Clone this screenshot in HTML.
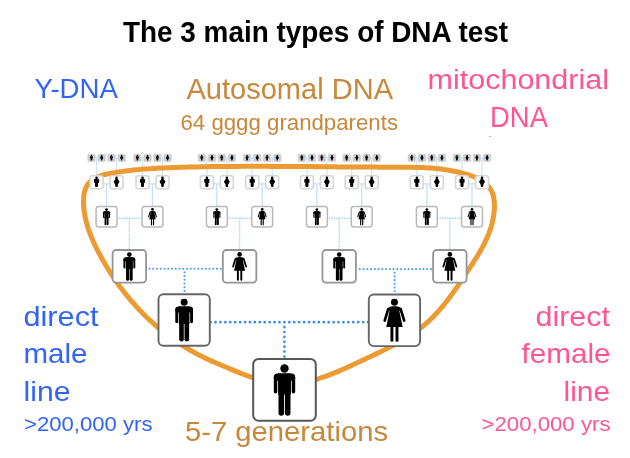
<!DOCTYPE html>
<html><head><meta charset="utf-8"><style>
html,body{margin:0;padding:0;background:#fff;}
svg{display:block;will-change:transform;}
text{font-family:"Liberation Sans",sans-serif;}
</style></head><body>
<svg width="630" height="458" viewBox="0 0 630 458">
<defs>
<filter id="b1" x="-20%" y="-20%" width="140%" height="140%"><feGaussianBlur stdDeviation="0.35"/></filter>
<filter id="b3" x="-30%" y="-30%" width="160%" height="160%"><feGaussianBlur stdDeviation="0.45"/></filter>
<filter id="b2" x="-20%" y="-20%" width="140%" height="140%"><feGaussianBlur stdDeviation="0.3"/></filter>
<symbol id="m" viewBox="0 0 100 100">
 <circle cx="50" cy="15.5" r="6.8"/>
 <rect x="32.7" y="23.5" width="34.6" height="12" rx="6"/>
 <rect x="32.7" y="27" width="5.6" height="29" rx="2.8"/>
 <rect x="61.7" y="27" width="5.6" height="29" rx="2.8"/>
 <rect x="39.6" y="23.5" width="20.8" height="34"/>
 <rect x="40.3" y="50" width="9" height="42" rx="4.5"/>
 <rect x="50.7" y="50" width="9" height="42" rx="4.5"/>
</symbol>
<symbol id="f" viewBox="0 0 100 100">
 <circle cx="50" cy="15" r="6.8"/>
 <path d="M38,28L31,50.5M62,28L69,50.5" stroke="#000" stroke-width="5.2" stroke-linecap="round"/>
 <path d="M36.5,29C37.5,25 41,22.8 50,22.8C59,22.8 62.5,25 63.5,29L59.5,31.5L66,63H34L40.5,31.5Z"/>
 <rect x="42.2" y="56" width="5.7" height="36" rx="2.85"/>
 <rect x="52.1" y="56" width="5.7" height="36" rx="2.85"/>
</symbol>
<symbol id="ms" viewBox="0 0 100 100">
 <circle cx="50" cy="17" r="10"/>
 <path d="M36,26H64Q70,26 70,32V50Q70,54 62,54V80Q62,86 56,86H44Q38,86 38,80V54Q30,54 30,50V32Q30,26 36,26Z"/>
</symbol>
<symbol id="fs" viewBox="0 0 100 100">
 <circle cx="50" cy="17" r="10"/>
 <path d="M41,25H59L73,47L60,68V80Q60,86 55,86H45Q40,86 40,80V68L27,47Z"/>
</symbol>
</defs>
<rect width="630" height="458" fill="#fff"/>

<text x="123" y="42" font-weight="bold" font-size="29.4" textLength="385" lengthAdjust="spacingAndGlyphs" fill="#000">The 3 main types of DNA test</text>
<text x="34.5" y="98.3" font-size="28.4" textLength="83.5" lengthAdjust="spacingAndGlyphs" fill="#3265f6">Y-DNA</text>
<text x="186.5" y="98.8" font-size="29" textLength="206.5" lengthAdjust="spacingAndGlyphs" fill="#c8873a">Autosomal DNA</text>
<text x="180.5" y="130" font-size="21.4" textLength="217.5" lengthAdjust="spacingAndGlyphs" fill="#c8873a">64 gggg grandparents</text>
<text x="427.5" y="88.8" font-size="28.2" textLength="181.5" lengthAdjust="spacingAndGlyphs" fill="#ff5592">mitochondrial</text>
<text x="490" y="126.7" font-size="29" textLength="58" lengthAdjust="spacingAndGlyphs" fill="#ff5592">DNA</text>
<text x="23.5" y="325.6" font-size="28.3" textLength="75" lengthAdjust="spacingAndGlyphs" fill="#3265f6">direct</text>
<text x="23.5" y="363.3" font-size="28.3" textLength="64" lengthAdjust="spacingAndGlyphs" fill="#3265f6">male</text>
<text x="23.5" y="401.2" font-size="28.3" textLength="47" lengthAdjust="spacingAndGlyphs" fill="#3265f6">line</text>
<text x="24" y="431" font-size="20.5" textLength="128.5" lengthAdjust="spacingAndGlyphs" fill="#3265f6">&gt;200,000 yrs</text>
<text x="535.5" y="325.6" font-size="28.3" textLength="74.5" lengthAdjust="spacingAndGlyphs" fill="#ff5592">direct</text>
<text x="521.5" y="363.3" font-size="28.3" textLength="89" lengthAdjust="spacingAndGlyphs" fill="#ff5592">female</text>
<text x="563.5" y="401.2" font-size="28.3" textLength="46.5" lengthAdjust="spacingAndGlyphs" fill="#ff5592">line</text>
<text x="481.5" y="431" font-size="20.5" textLength="129" lengthAdjust="spacingAndGlyphs" fill="#ff5592">&gt;200,000 yrs</text>
<text x="185" y="441.3" font-size="28.3" textLength="203" lengthAdjust="spacingAndGlyphs" fill="#c8873a">5-7 generations</text>
<ellipse cx="490" cy="136.4" rx="1.1" ry="0.7" fill="#ff7a9a" opacity="0.8"/>

<g><path d="M91.45,157.9H101.65M96.55,157.9V175.7" stroke="#cde5fb" stroke-width="1.3" fill="none"/><path d="M111.45,157.9H121.65M116.55,157.9V175.7" stroke="#cde5fb" stroke-width="1.3" fill="none"/><path d="M137.40,157.9H147.60M142.50,157.9V175.7" stroke="#cde5fb" stroke-width="1.3" fill="none"/><path d="M157.40,157.9H167.60M162.50,157.9V175.7" stroke="#cde5fb" stroke-width="1.3" fill="none"/><path d="M201.75,157.9H211.95M206.85,157.9V175.7" stroke="#cde5fb" stroke-width="1.3" fill="none"/><path d="M221.75,157.9H231.95M226.85,157.9V175.7" stroke="#cde5fb" stroke-width="1.3" fill="none"/><path d="M247.10,157.9H257.30M252.20,157.9V175.7" stroke="#cde5fb" stroke-width="1.3" fill="none"/><path d="M267.10,157.9H277.30M272.20,157.9V175.7" stroke="#cde5fb" stroke-width="1.3" fill="none"/><path d="M301.80,157.9H312.00M306.90,157.9V175.7" stroke="#cde5fb" stroke-width="1.3" fill="none"/><path d="M321.80,157.9H332.00M326.90,157.9V175.7" stroke="#cde5fb" stroke-width="1.3" fill="none"/><path d="M346.60,157.9H356.80M351.70,157.9V175.7" stroke="#cde5fb" stroke-width="1.3" fill="none"/><path d="M366.60,157.9H376.80M371.70,157.9V175.7" stroke="#cde5fb" stroke-width="1.3" fill="none"/><path d="M411.75,157.9H421.95M416.85,157.9V175.7" stroke="#cde5fb" stroke-width="1.3" fill="none"/><path d="M431.75,157.9H441.95M436.85,157.9V175.7" stroke="#cde5fb" stroke-width="1.3" fill="none"/><path d="M456.90,157.9H467.10M462.00,157.9V175.7" stroke="#cde5fb" stroke-width="1.3" fill="none"/><path d="M476.90,157.9H487.10M482.00,157.9V175.7" stroke="#cde5fb" stroke-width="1.3" fill="none"/><path d="M96.55,183.8H116.55M106.55,183.8V206.4" stroke="#c4e0fa" stroke-width="1.3" fill="none"/><path d="M142.50,183.8H162.50M152.50,183.8V206.4" stroke="#c4e0fa" stroke-width="1.3" fill="none"/><path d="M206.85,183.8H226.85M216.85,183.8V206.4" stroke="#c4e0fa" stroke-width="1.3" fill="none"/><path d="M252.20,183.8H272.20M262.20,183.8V206.4" stroke="#c4e0fa" stroke-width="1.3" fill="none"/><path d="M306.90,183.8H326.90M316.90,183.8V206.4" stroke="#c4e0fa" stroke-width="1.3" fill="none"/><path d="M351.70,183.8H371.70M361.70,183.8V206.4" stroke="#c4e0fa" stroke-width="1.3" fill="none"/><path d="M416.85,183.8H436.85M426.85,183.8V206.4" stroke="#c4e0fa" stroke-width="1.3" fill="none"/><path d="M462.00,183.8H482.00M472.00,183.8V206.4" stroke="#c4e0fa" stroke-width="1.3" fill="none"/><path d="M106.55,218.3H152.15M129.35,218.3V250.0" stroke="#acd5f8" stroke-width="1.4" fill="none" stroke-dasharray="1.5 1"/><path d="M216.80,218.3H262.40M239.60,218.3V250.0" stroke="#acd5f8" stroke-width="1.4" fill="none" stroke-dasharray="1.5 1"/><path d="M316.40,218.3H362.00M339.20,218.3V250.0" stroke="#acd5f8" stroke-width="1.4" fill="none" stroke-dasharray="1.5 1"/><path d="M427.05,218.3H472.65M449.85,218.3V250.0" stroke="#acd5f8" stroke-width="1.4" fill="none" stroke-dasharray="1.5 1"/><path d="M149.50,268.8H221.65" stroke="#4a9ff0" stroke-width="2.1" fill="none" stroke-linecap="round" stroke-dasharray="0 3.75"/><path d="M184.50,272.40V293.3" stroke="#4a9ff0" stroke-width="2.1" fill="none" stroke-linecap="round" stroke-dasharray="0 3.7"/><path d="M359.80,269.1H431.90" stroke="#4a9ff0" stroke-width="2.1" fill="none" stroke-linecap="round" stroke-dasharray="0 3.75"/><path d="M394.60,272.70V293.3" stroke="#4a9ff0" stroke-width="2.1" fill="none" stroke-linecap="round" stroke-dasharray="0 3.7"/><path d="M210.60,322.2H368.30" stroke="#3a8cee" stroke-width="2.7" fill="none" stroke-linecap="round" stroke-dasharray="0 4.92"/><path d="M284.4,327.10V357.9" stroke="#3a8cee" stroke-width="2.7" fill="none" stroke-linecap="round" stroke-dasharray="0 4.9"/></g>
<path d="M87.6,184.7 89.0,183.0 90.6,181.4 92.3,180.0 94.3,178.7 96.4,177.6 98.7,176.6 101.1,175.7 103.6,174.9 106.2,174.2 108.8,173.6 111.6,173.1 114.3,172.6 117.1,172.1 119.8,171.7 122.5,171.4 125.3,171.0 128.0,170.7 130.6,170.4 133.3,170.1 136.0,169.8 138.6,169.6 141.2,169.3 143.8,169.1 146.5,168.9 149.0,168.7 151.6,168.6 154.2,168.4 156.8,168.2 159.3,168.1 161.9,168.0 164.5,167.9 167.0,167.8 169.6,167.7 172.1,167.6 174.7,167.5 177.2,167.4 179.8,167.3 182.3,167.2 184.9,167.2 187.4,167.1 190.0,167.0 192.5,167.0 195.1,166.9 197.7,166.9 200.2,166.8 202.8,166.8 205.4,166.7 207.9,166.7 210.5,166.6 213.1,166.6 215.6,166.6 218.2,166.5 220.8,166.5 223.4,166.5 225.9,166.4 228.5,166.4 231.1,166.4 233.7,166.4 236.3,166.4 238.8,166.4 241.4,166.3 244.0,166.3 246.6,166.3 249.2,166.3 251.8,166.3 254.3,166.3 256.9,166.3 259.5,166.3 262.1,166.3 264.7,166.3 267.3,166.3 269.9,166.4 272.5,166.4 275.1,166.4 277.7,166.4 280.3,166.4 282.9,166.4 285.5,166.4 288.1,166.4 290.7,166.5 293.3,166.5 295.9,166.5 298.5,166.5 301.1,166.5 303.7,166.6 306.3,166.6 308.9,166.6 311.5,166.6 314.1,166.7 316.7,166.7 319.3,166.7 321.9,166.7 324.5,166.7 327.1,166.8 329.7,166.8 332.3,166.8 334.9,166.8 337.5,166.9 340.1,166.9 342.7,166.9 345.3,166.9 347.9,167.0 350.5,167.0 353.1,167.0 355.7,167.0 358.3,167.0 360.9,167.1 363.5,167.1 366.1,167.1 368.7,167.1 371.3,167.1 373.9,167.1 376.5,167.1 379.1,167.2 381.7,167.2 384.3,167.2 386.9,167.2 389.5,167.2 392.1,167.2 394.7,167.2 397.3,167.2 399.9,167.2 402.5,167.2 405.1,167.2 407.7,167.2 410.3,167.3 412.8,167.3 415.4,167.4 418.0,167.4 420.6,167.5 423.2,167.6 425.8,167.8 428.4,167.9 430.9,168.1 433.5,168.3 436.1,168.6 438.7,168.8 441.2,169.1 443.8,169.5 446.4,169.8 448.9,170.2 451.5,170.7 454.0,171.2 456.6,171.7 459.1,172.3 461.7,172.9 464.2,173.6 466.8,174.3 469.3,175.1 471.8,176.0 474.2,176.9 476.6,177.9 478.9,179.0 481.1,180.2 483.2,181.6 485.1,183.0 486.9,184.6 488.5,186.3 489.9,188.1 491.1,190.1 492.1,192.3 492.9,194.6 493.6,197.0 494.0,199.5 494.3,202.1 494.4,204.7 494.4,207.4 494.3,210.1 494.0,212.9 493.6,215.6 493.2,218.3 492.6,221.0 492.0,223.6 491.3,226.2 490.5,228.7 489.7,231.2 488.8,233.6 487.8,236.0 486.8,238.4 485.7,240.7 484.6,243.0 483.5,245.3 482.3,247.5 481.0,249.7 479.8,251.9 478.5,254.1 477.2,256.3 475.8,258.5 474.4,260.6 473.1,262.8 471.6,265.0 470.2,267.1 468.8,269.3 467.4,271.5 466.0,273.7 464.5,275.9 463.1,278.1 461.6,280.3 460.1,282.5 458.7,284.7 457.2,286.9 455.6,289.0 454.1,291.2 452.6,293.4 451.0,295.5 449.5,297.6 447.9,299.7 446.3,301.8 444.6,303.8 443.0,305.9 441.3,307.9 439.6,309.9 437.9,311.8 436.1,313.7 434.4,315.6 432.6,317.4 430.7,319.2 428.9,321.0 427.0,322.7 425.1,324.4 423.1,326.0 421.2,327.6 419.2,329.1 417.2,330.6 415.1,332.1 413.0,333.5 410.9,334.9 408.8,336.3 406.7,337.7 404.5,339.0 402.4,340.3 400.2,341.6 397.9,342.8 395.7,344.0 393.5,345.2 391.2,346.4 388.9,347.6 386.6,348.8 384.3,349.9 382.0,351.1 379.6,352.2 377.3,353.3 374.9,354.5 372.6,355.6 370.2,356.7 367.8,357.8 365.4,358.9 363.0,360.0 360.6,361.2 358.2,362.3 355.8,363.4 353.4,364.5 351.0,365.7 348.5,366.8 346.1,367.9 343.7,369.0 341.2,370.0 338.8,371.1 336.4,372.1 333.9,373.1 331.5,374.1 329.0,375.1 326.5,376.0 324.1,376.9 321.6,377.7 319.2,378.5 316.7,379.3 314.2,380.0 311.7,380.7 309.3,381.3 306.8,381.9 304.3,382.4 301.8,382.8 299.4,383.2 296.9,383.5 294.4,383.8 291.9,384.0 289.4,384.1 286.9,384.1 284.4,384.1 282.0,383.9 279.5,383.8 277.0,383.5 274.5,383.1 272.0,382.7 269.5,382.3 267.0,381.7 264.6,381.1 262.1,380.5 259.6,379.8 257.1,379.0 254.6,378.3 252.2,377.4 249.7,376.6 247.2,375.7 244.8,374.8 242.3,373.8 239.8,372.9 237.4,371.9 234.9,370.9 232.5,369.9 230.0,368.9 227.6,367.8 225.1,366.8 222.7,365.8 220.3,364.8 217.9,363.7 215.5,362.7 213.1,361.6 210.7,360.6 208.3,359.5 205.9,358.4 203.6,357.2 201.3,356.1 198.9,354.9 196.6,353.7 194.4,352.5 192.1,351.3 189.8,350.0 187.6,348.7 185.4,347.4 183.2,346.0 181.0,344.6 178.9,343.2 176.8,341.8 174.6,340.3 172.5,338.8 170.4,337.3 168.4,335.8 166.3,334.3 164.3,332.7 162.3,331.1 160.3,329.5 158.3,327.8 156.4,326.1 154.5,324.5 152.6,322.7 150.7,321.0 148.8,319.3 146.9,317.5 145.1,315.7 143.3,313.9 141.5,312.0 139.7,310.2 137.9,308.3 136.2,306.4 134.5,304.5 132.8,302.5 131.1,300.6 129.4,298.6 127.8,296.6 126.1,294.6 124.5,292.6 123.0,290.5 121.4,288.5 119.8,286.4 118.3,284.3 116.8,282.2 115.3,280.1 113.9,277.9 112.4,275.8 111.0,273.6 109.6,271.4 108.2,269.2 106.8,267.0 105.5,264.7 104.2,262.5 102.9,260.2 101.6,257.9 100.3,255.6 99.1,253.3 97.9,251.0 96.7,248.7 95.5,246.3 94.4,244.0 93.3,241.6 92.3,239.2 91.3,236.8 90.3,234.3 89.4,231.9 88.5,229.4 87.7,226.9 87.0,224.4 86.3,221.9 85.7,219.3 85.1,216.7 84.7,214.1 84.2,211.5 83.9,208.9 83.7,206.2 83.5,203.5 83.5,200.9 83.6,198.3 83.8,195.8 84.2,193.3 84.7,191.0 85.5,188.7 86.4,186.6 87.6,184.7Z" fill="none" stroke="#ec9a32" stroke-width="5.0"/>
<rect x="87.85" y="154.30" width="7.20" height="7.20" rx="1" fill="#cdcdcd" stroke="#cfcfcf" stroke-width="0.8"/>
<use href="#ms" x="87.85" y="154.30" width="7.20" height="7.20" filter="url(#b3)"/>
<rect x="98.05" y="154.30" width="7.20" height="7.20" rx="1" fill="#cdcdcd" stroke="#cfcfcf" stroke-width="0.8"/>
<use href="#fs" x="98.05" y="154.30" width="7.20" height="7.20" filter="url(#b3)"/>
<rect x="107.85" y="154.30" width="7.20" height="7.20" rx="1" fill="#cdcdcd" stroke="#cfcfcf" stroke-width="0.8"/>
<use href="#ms" x="107.85" y="154.30" width="7.20" height="7.20" filter="url(#b3)"/>
<rect x="118.05" y="154.30" width="7.20" height="7.20" rx="1" fill="#cdcdcd" stroke="#cfcfcf" stroke-width="0.8"/>
<use href="#fs" x="118.05" y="154.30" width="7.20" height="7.20" filter="url(#b3)"/>
<rect x="133.80" y="154.30" width="7.20" height="7.20" rx="1" fill="#cdcdcd" stroke="#cfcfcf" stroke-width="0.8"/>
<use href="#ms" x="133.80" y="154.30" width="7.20" height="7.20" filter="url(#b3)"/>
<rect x="144.00" y="154.30" width="7.20" height="7.20" rx="1" fill="#cdcdcd" stroke="#cfcfcf" stroke-width="0.8"/>
<use href="#fs" x="144.00" y="154.30" width="7.20" height="7.20" filter="url(#b3)"/>
<rect x="153.80" y="154.30" width="7.20" height="7.20" rx="1" fill="#cdcdcd" stroke="#cfcfcf" stroke-width="0.8"/>
<use href="#ms" x="153.80" y="154.30" width="7.20" height="7.20" filter="url(#b3)"/>
<rect x="164.00" y="154.30" width="7.20" height="7.20" rx="1" fill="#cdcdcd" stroke="#cfcfcf" stroke-width="0.8"/>
<use href="#fs" x="164.00" y="154.30" width="7.20" height="7.20" filter="url(#b3)"/>
<rect x="198.15" y="154.30" width="7.20" height="7.20" rx="1" fill="#cdcdcd" stroke="#cfcfcf" stroke-width="0.8"/>
<use href="#ms" x="198.15" y="154.30" width="7.20" height="7.20" filter="url(#b3)"/>
<rect x="208.35" y="154.30" width="7.20" height="7.20" rx="1" fill="#cdcdcd" stroke="#cfcfcf" stroke-width="0.8"/>
<use href="#fs" x="208.35" y="154.30" width="7.20" height="7.20" filter="url(#b3)"/>
<rect x="218.15" y="154.30" width="7.20" height="7.20" rx="1" fill="#cdcdcd" stroke="#cfcfcf" stroke-width="0.8"/>
<use href="#ms" x="218.15" y="154.30" width="7.20" height="7.20" filter="url(#b3)"/>
<rect x="228.35" y="154.30" width="7.20" height="7.20" rx="1" fill="#cdcdcd" stroke="#cfcfcf" stroke-width="0.8"/>
<use href="#fs" x="228.35" y="154.30" width="7.20" height="7.20" filter="url(#b3)"/>
<rect x="243.50" y="154.30" width="7.20" height="7.20" rx="1" fill="#cdcdcd" stroke="#cfcfcf" stroke-width="0.8"/>
<use href="#ms" x="243.50" y="154.30" width="7.20" height="7.20" filter="url(#b3)"/>
<rect x="253.70" y="154.30" width="7.20" height="7.20" rx="1" fill="#cdcdcd" stroke="#cfcfcf" stroke-width="0.8"/>
<use href="#fs" x="253.70" y="154.30" width="7.20" height="7.20" filter="url(#b3)"/>
<rect x="263.50" y="154.30" width="7.20" height="7.20" rx="1" fill="#cdcdcd" stroke="#cfcfcf" stroke-width="0.8"/>
<use href="#ms" x="263.50" y="154.30" width="7.20" height="7.20" filter="url(#b3)"/>
<rect x="273.70" y="154.30" width="7.20" height="7.20" rx="1" fill="#cdcdcd" stroke="#cfcfcf" stroke-width="0.8"/>
<use href="#fs" x="273.70" y="154.30" width="7.20" height="7.20" filter="url(#b3)"/>
<rect x="298.20" y="154.30" width="7.20" height="7.20" rx="1" fill="#cdcdcd" stroke="#cfcfcf" stroke-width="0.8"/>
<use href="#ms" x="298.20" y="154.30" width="7.20" height="7.20" filter="url(#b3)"/>
<rect x="308.40" y="154.30" width="7.20" height="7.20" rx="1" fill="#cdcdcd" stroke="#cfcfcf" stroke-width="0.8"/>
<use href="#fs" x="308.40" y="154.30" width="7.20" height="7.20" filter="url(#b3)"/>
<rect x="318.20" y="154.30" width="7.20" height="7.20" rx="1" fill="#cdcdcd" stroke="#cfcfcf" stroke-width="0.8"/>
<use href="#ms" x="318.20" y="154.30" width="7.20" height="7.20" filter="url(#b3)"/>
<rect x="328.40" y="154.30" width="7.20" height="7.20" rx="1" fill="#cdcdcd" stroke="#cfcfcf" stroke-width="0.8"/>
<use href="#fs" x="328.40" y="154.30" width="7.20" height="7.20" filter="url(#b3)"/>
<rect x="343.00" y="154.30" width="7.20" height="7.20" rx="1" fill="#cdcdcd" stroke="#cfcfcf" stroke-width="0.8"/>
<use href="#ms" x="343.00" y="154.30" width="7.20" height="7.20" filter="url(#b3)"/>
<rect x="353.20" y="154.30" width="7.20" height="7.20" rx="1" fill="#cdcdcd" stroke="#cfcfcf" stroke-width="0.8"/>
<use href="#fs" x="353.20" y="154.30" width="7.20" height="7.20" filter="url(#b3)"/>
<rect x="363.00" y="154.30" width="7.20" height="7.20" rx="1" fill="#cdcdcd" stroke="#cfcfcf" stroke-width="0.8"/>
<use href="#ms" x="363.00" y="154.30" width="7.20" height="7.20" filter="url(#b3)"/>
<rect x="373.20" y="154.30" width="7.20" height="7.20" rx="1" fill="#cdcdcd" stroke="#cfcfcf" stroke-width="0.8"/>
<use href="#fs" x="373.20" y="154.30" width="7.20" height="7.20" filter="url(#b3)"/>
<rect x="408.15" y="154.30" width="7.20" height="7.20" rx="1" fill="#cdcdcd" stroke="#cfcfcf" stroke-width="0.8"/>
<use href="#ms" x="408.15" y="154.30" width="7.20" height="7.20" filter="url(#b3)"/>
<rect x="418.35" y="154.30" width="7.20" height="7.20" rx="1" fill="#cdcdcd" stroke="#cfcfcf" stroke-width="0.8"/>
<use href="#fs" x="418.35" y="154.30" width="7.20" height="7.20" filter="url(#b3)"/>
<rect x="428.15" y="154.30" width="7.20" height="7.20" rx="1" fill="#cdcdcd" stroke="#cfcfcf" stroke-width="0.8"/>
<use href="#ms" x="428.15" y="154.30" width="7.20" height="7.20" filter="url(#b3)"/>
<rect x="438.35" y="154.30" width="7.20" height="7.20" rx="1" fill="#cdcdcd" stroke="#cfcfcf" stroke-width="0.8"/>
<use href="#fs" x="438.35" y="154.30" width="7.20" height="7.20" filter="url(#b3)"/>
<rect x="453.30" y="154.30" width="7.20" height="7.20" rx="1" fill="#cdcdcd" stroke="#cfcfcf" stroke-width="0.8"/>
<use href="#ms" x="453.30" y="154.30" width="7.20" height="7.20" filter="url(#b3)"/>
<rect x="463.50" y="154.30" width="7.20" height="7.20" rx="1" fill="#cdcdcd" stroke="#cfcfcf" stroke-width="0.8"/>
<use href="#fs" x="463.50" y="154.30" width="7.20" height="7.20" filter="url(#b3)"/>
<rect x="473.30" y="154.30" width="7.20" height="7.20" rx="1" fill="#cdcdcd" stroke="#cfcfcf" stroke-width="0.8"/>
<use href="#ms" x="473.30" y="154.30" width="7.20" height="7.20" filter="url(#b3)"/>
<rect x="483.50" y="154.30" width="7.20" height="7.20" rx="1" fill="#cdcdcd" stroke="#cfcfcf" stroke-width="0.8"/>
<use href="#fs" x="483.50" y="154.30" width="7.20" height="7.20" filter="url(#b3)"/>
<rect x="90.05" y="175.70" width="13.00" height="13.00" rx="2.2" fill="#fff" stroke="#d6d6d6" stroke-width="1.6"/>
<use href="#ms" x="90.05" y="175.70" width="13.00" height="13.00" filter="url(#b1)"/>
<rect x="110.05" y="175.70" width="13.00" height="13.00" rx="2.2" fill="#fff" stroke="#d6d6d6" stroke-width="1.6"/>
<use href="#fs" x="110.05" y="175.70" width="13.00" height="13.00" filter="url(#b1)"/>
<rect x="136.00" y="175.70" width="13.00" height="13.00" rx="2.2" fill="#fff" stroke="#d6d6d6" stroke-width="1.6"/>
<use href="#ms" x="136.00" y="175.70" width="13.00" height="13.00" filter="url(#b1)"/>
<rect x="156.00" y="175.70" width="13.00" height="13.00" rx="2.2" fill="#fff" stroke="#d6d6d6" stroke-width="1.6"/>
<use href="#fs" x="156.00" y="175.70" width="13.00" height="13.00" filter="url(#b1)"/>
<rect x="200.35" y="175.70" width="13.00" height="13.00" rx="2.2" fill="#fff" stroke="#d6d6d6" stroke-width="1.6"/>
<use href="#ms" x="200.35" y="175.70" width="13.00" height="13.00" filter="url(#b1)"/>
<rect x="220.35" y="175.70" width="13.00" height="13.00" rx="2.2" fill="#fff" stroke="#d6d6d6" stroke-width="1.6"/>
<use href="#fs" x="220.35" y="175.70" width="13.00" height="13.00" filter="url(#b1)"/>
<rect x="245.70" y="175.70" width="13.00" height="13.00" rx="2.2" fill="#fff" stroke="#d6d6d6" stroke-width="1.6"/>
<use href="#ms" x="245.70" y="175.70" width="13.00" height="13.00" filter="url(#b1)"/>
<rect x="265.70" y="175.70" width="13.00" height="13.00" rx="2.2" fill="#fff" stroke="#d6d6d6" stroke-width="1.6"/>
<use href="#fs" x="265.70" y="175.70" width="13.00" height="13.00" filter="url(#b1)"/>
<rect x="300.40" y="175.70" width="13.00" height="13.00" rx="2.2" fill="#fff" stroke="#d6d6d6" stroke-width="1.6"/>
<use href="#ms" x="300.40" y="175.70" width="13.00" height="13.00" filter="url(#b1)"/>
<rect x="320.40" y="175.70" width="13.00" height="13.00" rx="2.2" fill="#fff" stroke="#d6d6d6" stroke-width="1.6"/>
<use href="#fs" x="320.40" y="175.70" width="13.00" height="13.00" filter="url(#b1)"/>
<rect x="345.20" y="175.70" width="13.00" height="13.00" rx="2.2" fill="#fff" stroke="#d6d6d6" stroke-width="1.6"/>
<use href="#ms" x="345.20" y="175.70" width="13.00" height="13.00" filter="url(#b1)"/>
<rect x="365.20" y="175.70" width="13.00" height="13.00" rx="2.2" fill="#fff" stroke="#d6d6d6" stroke-width="1.6"/>
<use href="#fs" x="365.20" y="175.70" width="13.00" height="13.00" filter="url(#b1)"/>
<rect x="410.35" y="175.70" width="13.00" height="13.00" rx="2.2" fill="#fff" stroke="#d6d6d6" stroke-width="1.6"/>
<use href="#ms" x="410.35" y="175.70" width="13.00" height="13.00" filter="url(#b1)"/>
<rect x="430.35" y="175.70" width="13.00" height="13.00" rx="2.2" fill="#fff" stroke="#d6d6d6" stroke-width="1.6"/>
<use href="#fs" x="430.35" y="175.70" width="13.00" height="13.00" filter="url(#b1)"/>
<rect x="455.50" y="175.70" width="13.00" height="13.00" rx="2.2" fill="#fff" stroke="#d6d6d6" stroke-width="1.6"/>
<use href="#ms" x="455.50" y="175.70" width="13.00" height="13.00" filter="url(#b1)"/>
<rect x="475.50" y="175.70" width="13.00" height="13.00" rx="2.2" fill="#fff" stroke="#d6d6d6" stroke-width="1.6"/>
<use href="#fs" x="475.50" y="175.70" width="13.00" height="13.00" filter="url(#b1)"/>
<rect x="96.10" y="206.40" width="20.90" height="20.50" rx="2.6" fill="#fff" stroke="#b9b9b9" stroke-width="1.5"/>
<use href="#m" x="96.10" y="206.40" width="20.90" height="20.50" filter="url(#b2)"/>
<rect x="142.05" y="206.40" width="20.90" height="20.50" rx="2.6" fill="#fff" stroke="#b9b9b9" stroke-width="1.5"/>
<use href="#f" x="142.05" y="206.40" width="20.90" height="20.50" filter="url(#b2)"/>
<rect x="206.40" y="206.40" width="20.90" height="20.50" rx="2.6" fill="#fff" stroke="#b9b9b9" stroke-width="1.5"/>
<use href="#m" x="206.40" y="206.40" width="20.90" height="20.50" filter="url(#b2)"/>
<rect x="251.75" y="206.40" width="20.90" height="20.50" rx="2.6" fill="#fff" stroke="#b9b9b9" stroke-width="1.5"/>
<use href="#f" x="251.75" y="206.40" width="20.90" height="20.50" filter="url(#b2)"/>
<rect x="306.45" y="206.40" width="20.90" height="20.50" rx="2.6" fill="#fff" stroke="#b9b9b9" stroke-width="1.5"/>
<use href="#m" x="306.45" y="206.40" width="20.90" height="20.50" filter="url(#b2)"/>
<rect x="351.25" y="206.40" width="20.90" height="20.50" rx="2.6" fill="#fff" stroke="#b9b9b9" stroke-width="1.5"/>
<use href="#f" x="351.25" y="206.40" width="20.90" height="20.50" filter="url(#b2)"/>
<rect x="416.40" y="206.40" width="20.90" height="20.50" rx="2.6" fill="#fff" stroke="#b9b9b9" stroke-width="1.5"/>
<use href="#m" x="416.40" y="206.40" width="20.90" height="20.50" filter="url(#b2)"/>
<rect x="461.55" y="206.40" width="20.90" height="20.50" rx="2.6" fill="#fff" stroke="#b9b9b9" stroke-width="1.5"/>
<use href="#f" x="461.55" y="206.40" width="20.90" height="20.50" filter="url(#b2)"/>
<rect x="112.60" y="250.00" width="33.50" height="32.60" rx="3.5" fill="#fff" stroke="#959595" stroke-width="1.8"/>
<use href="#m" x="111.76" y="249.30" width="35.18" height="34.23"/>
<rect x="222.85" y="250.00" width="33.50" height="32.60" rx="3.5" fill="#fff" stroke="#959595" stroke-width="1.8"/>
<use href="#f" x="222.01" y="249.30" width="35.18" height="34.23"/>
<rect x="322.45" y="250.00" width="33.50" height="32.60" rx="3.5" fill="#fff" stroke="#959595" stroke-width="1.8"/>
<use href="#m" x="321.61" y="249.30" width="35.18" height="34.23"/>
<rect x="433.10" y="250.00" width="33.50" height="32.60" rx="3.5" fill="#fff" stroke="#959595" stroke-width="1.8"/>
<use href="#f" x="432.26" y="249.30" width="35.18" height="34.23"/>
<rect x="158.50" y="294.30" width="51.30" height="51.50" rx="5" fill="#fff" stroke="#666" stroke-width="1.9"/>
<use href="#m" x="158.50" y="294.30" width="51.30" height="51.50"/>
<rect x="368.80" y="294.50" width="51.30" height="51.60" rx="5" fill="#fff" stroke="#666" stroke-width="1.9"/>
<use href="#f" x="368.80" y="294.50" width="51.30" height="51.60"/>
<rect x="253.20" y="358.90" width="62.60" height="61.80" rx="5.5" fill="#fff" stroke="#575757" stroke-width="2.0"/>
<use href="#m" x="253.20" y="358.90" width="62.60" height="61.80"/>
</svg>
</body></html>
